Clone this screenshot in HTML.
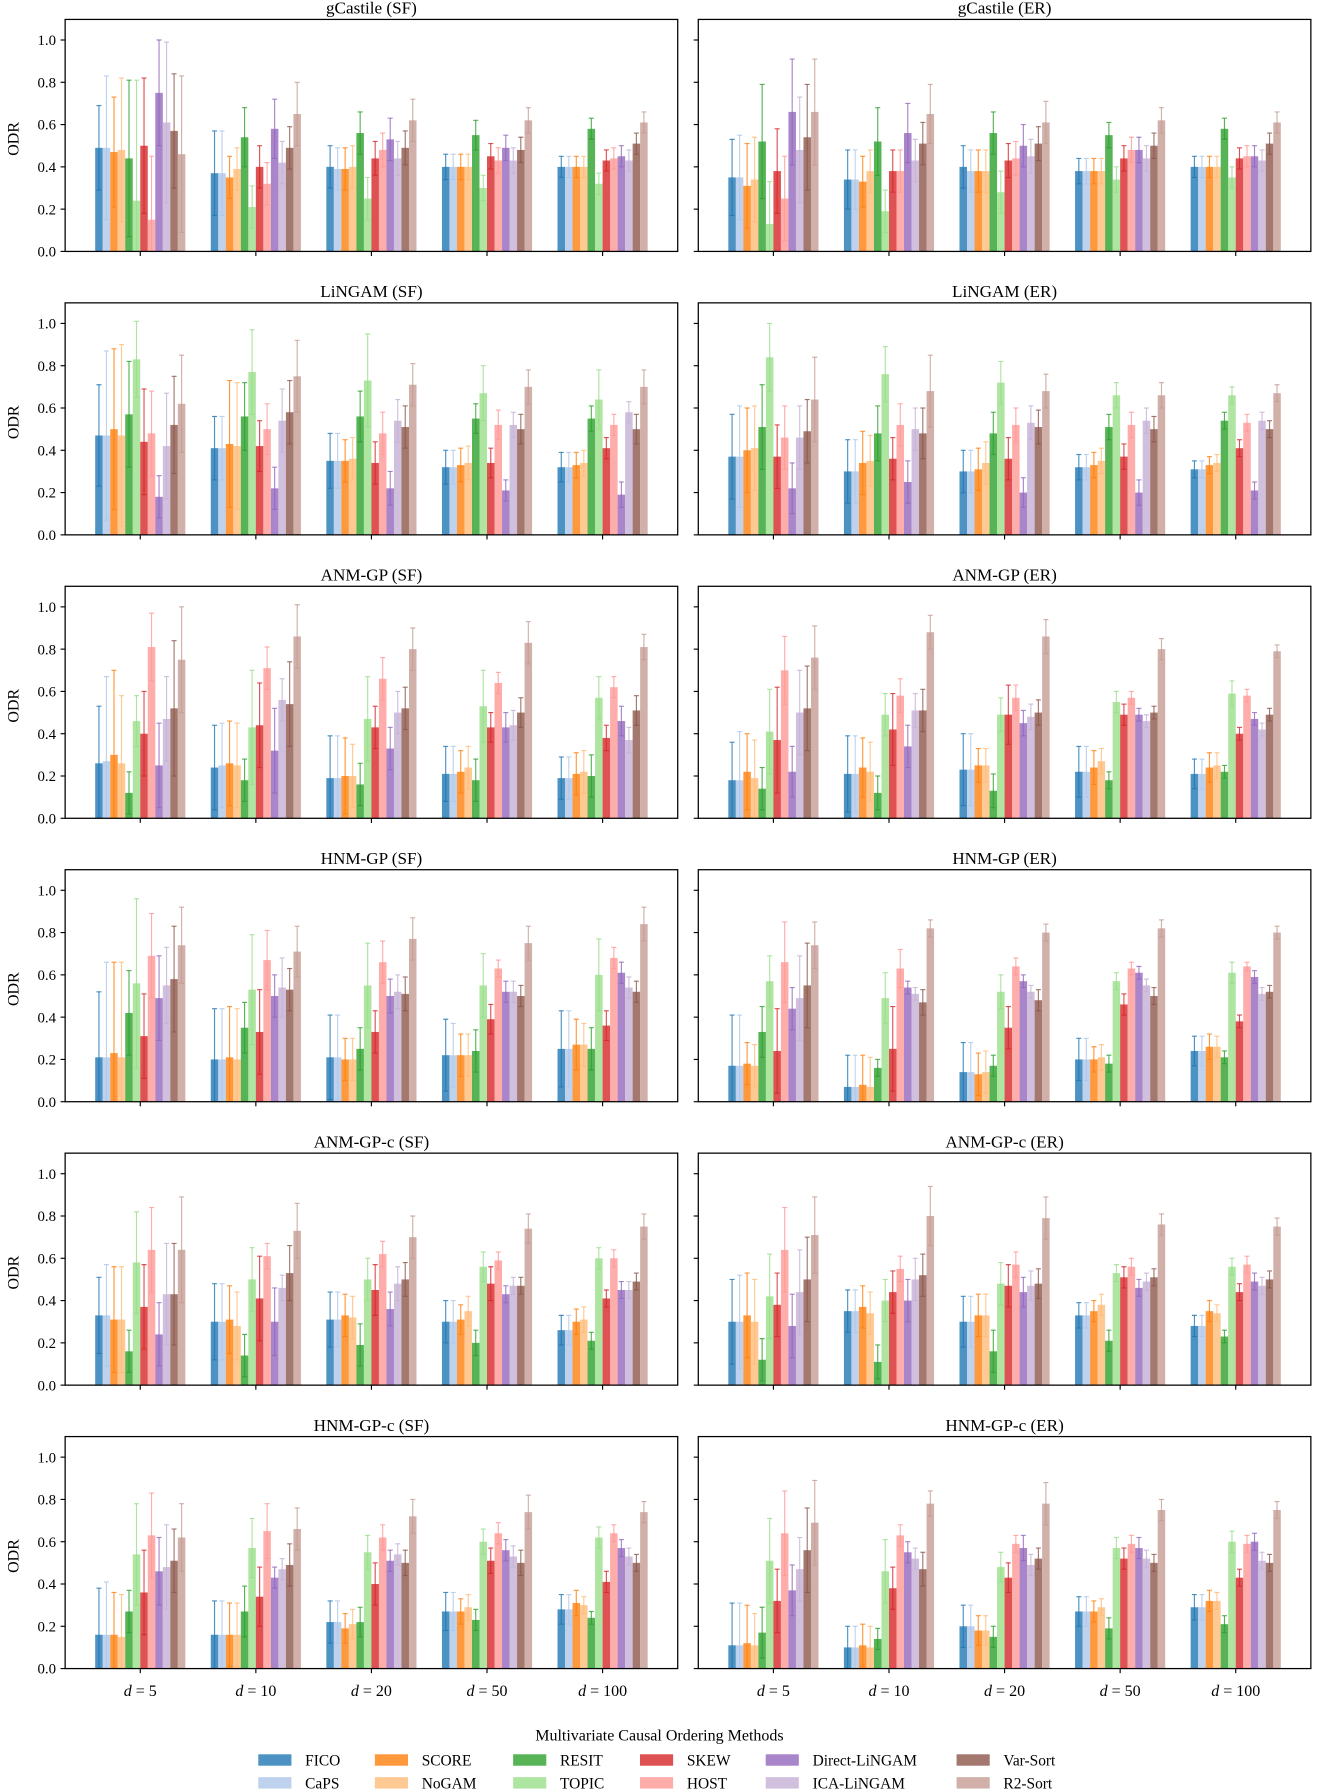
<!DOCTYPE html>
<html><head><meta charset="utf-8"><style>
html,body{margin:0;padding:0;background:#fff;}
svg{display:block;font-family:"Liberation Serif","DejaVu Serif",serif;}
</style></head><body>
<svg id="chart" width="1320" height="1792" viewBox="0 0 1155 1568" xmlns="http://www.w3.org/2000/svg"></svg>
<script>
const categories = ["5","10","20","50","100"];
const methods = ["FICO","CaPS","SCORE","NoGAM","RESIT","TOPIC","SKEW","HOST","Direct-LiNGAM","ICA-LiNGAM","Var-Sort","R2-Sort"];
const colors = ["#1f77b4","#aec7e8","#ff7f0e","#ffbb78","#2ca02c","#98df8a","#d62728","#ff9896","#9467bd","#c5b0d5","#8c564b","#c49c94"];
const panelTitles = ["gCastile (SF)","gCastile (ER)","LiNGAM (SF)","LiNGAM (ER)","ANM-GP (SF)","ANM-GP (ER)","HNM-GP (SF)","HNM-GP (ER)","ANM-GP-c (SF)","ANM-GP-c (ER)","HNM-GP-c (SF)","HNM-GP-c (ER)"];
const yTicks = [0,0.2,0.4,0.6,0.8,1.0];
const yTickLabels = ["0.0","0.2","0.4","0.6","0.8","1.0"];
const meanData = [
[[.49,.49,.47,.48,.44,.24,.50,.15,.75,.61,.57,.46],[.37,.37,.35,.39,.54,.21,.40,.32,.58,.42,.49,.65],[.40,.39,.39,.40,.56,.25,.44,.48,.53,.44,.49,.62],[.40,.40,.40,.40,.55,.30,.45,.43,.49,.43,.48,.62],[.40,.40,.40,.40,.58,.32,.43,.44,.45,.43,.51,.61]],
[[.35,.35,.31,.34,.52,.13,.38,.25,.66,.48,.54,.66],[.34,.34,.33,.38,.52,.19,.38,.38,.56,.43,.51,.65],[.40,.38,.38,.38,.56,.28,.43,.44,.50,.45,.51,.61],[.38,.38,.38,.38,.55,.34,.44,.48,.48,.44,.50,.62],[.40,.40,.40,.40,.58,.35,.44,.45,.45,.43,.51,.61]],
[[.47,.47,.50,.47,.57,.83,.44,.48,.18,.42,.52,.62],[.41,.41,.43,.42,.56,.77,.42,.50,.22,.54,.58,.75],[.35,.35,.35,.36,.56,.73,.34,.48,.22,.54,.51,.71],[.32,.32,.33,.34,.55,.67,.34,.52,.21,.52,.50,.70],[.32,.32,.33,.34,.55,.64,.41,.52,.19,.58,.50,.70]],
[[.37,.37,.40,.41,.51,.84,.37,.46,.22,.46,.49,.64],[.30,.30,.34,.35,.48,.76,.36,.52,.25,.50,.48,.68],[.30,.30,.31,.34,.48,.72,.36,.52,.20,.53,.51,.68],[.32,.32,.33,.35,.51,.66,.37,.52,.20,.54,.50,.66],[.31,.31,.33,.34,.54,.66,.41,.53,.21,.54,.50,.67]],
[[.26,.27,.30,.26,.12,.46,.40,.81,.25,.47,.52,.75],[.24,.25,.26,.25,.18,.43,.44,.71,.32,.56,.54,.86],[.19,.19,.20,.20,.16,.47,.43,.66,.33,.50,.52,.80],[.21,.21,.22,.24,.18,.53,.43,.64,.43,.44,.50,.83],[.19,.19,.21,.22,.20,.57,.38,.62,.46,.37,.51,.81]],
[[.18,.18,.22,.19,.14,.41,.37,.70,.22,.50,.52,.76],[.21,.21,.24,.22,.12,.49,.42,.58,.34,.51,.51,.88],[.23,.23,.25,.25,.13,.49,.49,.57,.45,.48,.50,.86],[.22,.22,.24,.27,.18,.55,.49,.57,.49,.46,.50,.80],[.21,.21,.24,.25,.22,.59,.40,.58,.47,.42,.49,.79]],
[[.21,.21,.23,.21,.42,.56,.31,.69,.49,.55,.58,.74],[.20,.20,.21,.20,.35,.53,.33,.67,.50,.54,.53,.71],[.21,.21,.20,.20,.25,.55,.33,.66,.50,.52,.51,.77],[.22,.22,.22,.22,.24,.55,.39,.63,.52,.52,.50,.75],[.25,.25,.27,.27,.25,.60,.36,.68,.61,.54,.52,.84]],
[[.17,.17,.18,.17,.33,.57,.24,.66,.44,.49,.55,.74],[.07,.07,.08,.07,.16,.49,.25,.63,.54,.51,.47,.82],[.14,.14,.13,.14,.17,.52,.35,.64,.57,.52,.48,.80],[.20,.20,.20,.21,.18,.57,.46,.63,.61,.55,.50,.82],[.24,.24,.26,.26,.21,.61,.38,.64,.59,.51,.52,.80]],
[[.33,.33,.31,.31,.16,.58,.37,.64,.24,.43,.43,.64],[.30,.30,.31,.28,.14,.50,.41,.61,.30,.46,.53,.73],[.31,.31,.33,.32,.19,.50,.45,.62,.36,.48,.50,.70],[.30,.30,.31,.35,.20,.56,.48,.59,.43,.47,.47,.74],[.26,.26,.30,.31,.21,.60,.41,.60,.45,.45,.49,.75]],
[[.30,.30,.33,.30,.12,.42,.38,.64,.28,.44,.50,.71],[.35,.35,.37,.34,.11,.40,.44,.55,.40,.50,.52,.80],[.30,.30,.33,.33,.16,.48,.47,.57,.44,.47,.48,.79],[.33,.33,.35,.38,.21,.53,.51,.56,.46,.49,.51,.76],[.28,.28,.35,.34,.23,.56,.44,.57,.49,.47,.50,.75]],
[[.16,.16,.16,.15,.27,.54,.36,.63,.46,.48,.51,.62],[.16,.16,.16,.16,.27,.57,.34,.65,.43,.47,.49,.66],[.22,.22,.19,.21,.22,.55,.40,.62,.51,.54,.50,.72],[.27,.27,.27,.29,.23,.60,.51,.64,.56,.53,.50,.74],[.28,.28,.31,.30,.24,.62,.41,.64,.57,.53,.50,.74]],
[[.11,.11,.12,.11,.17,.51,.32,.64,.37,.47,.56,.69],[.10,.10,.11,.10,.14,.46,.38,.63,.55,.52,.47,.78],[.20,.20,.18,.18,.15,.48,.43,.59,.57,.49,.52,.78],[.27,.27,.27,.29,.19,.57,.52,.59,.57,.52,.50,.75],[.29,.29,.32,.32,.21,.60,.43,.59,.60,.51,.50,.75]]
];
const errData = [
[[.20,.34,.26,.34,.37,.57,.32,.3,.25,.38,.27,.37],[.2,.2,.1,.1,.14,.1,.1,.1,.14,.1,.1,.15],[.1,.1,.1,.1,.1,.1,.08,.08,.1,.08,.08,.1],[.06,.06,.06,.06,.07,.06,.06,.06,.06,.06,.06,.06],[.05,.05,.05,.05,.05,.05,.05,.05,.05,.05,.05,.05]],
[[.18,.2,.2,.2,.27,.2,.2,.2,.25,.25,.25,.25],[.14,.14,.12,.1,.16,.1,.1,.1,.14,.1,.1,.14],[.1,.1,.1,.1,.1,.1,.08,.08,.1,.08,.08,.1],[.06,.06,.06,.06,.06,.06,.06,.06,.06,.06,.06,.06],[.05,.05,.05,.05,.05,.05,.05,.05,.05,.05,.05,.05]],
[[.24,.40,.38,.43,.25,.18,.25,.2,.1,.25,.23,.23],[.15,.15,.3,.3,.16,.2,.12,.12,.1,.15,.15,.17],[.13,.13,.1,.1,.12,.22,.1,.1,.08,.1,.1,.1],[.08,.08,.08,.08,.07,.13,.07,.07,.05,.06,.07,.08],[.07,.07,.06,.06,.06,.14,.05,.05,.06,.05,.07,.08]],
[[.2,.24,.2,.2,.2,.16,.15,.15,.12,.15,.15,.2],[.15,.15,.15,.12,.13,.13,.1,.1,.1,.1,.12,.17],[.1,.1,.1,.1,.1,.1,.1,.08,.07,.08,.08,.08],[.06,.06,.06,.06,.06,.06,.06,.06,.06,.06,.06,.06],[.04,.04,.04,.04,.04,.04,.04,.04,.04,.04,.04,.04]],
[[.27,.4,.4,.32,.1,.12,.2,.16,.2,.2,.32,.25],[.2,.2,.2,.2,.1,.27,.2,.1,.2,.1,.2,.15],[.2,.2,.18,.15,.1,.2,.1,.1,.1,.1,.1,.1],[.13,.13,.1,.1,.1,.17,.07,.05,.07,.07,.07,.1],[.1,.1,.1,.1,.1,.1,.06,.05,.07,.06,.07,.06]],
[[.18,.23,.18,.18,.1,.2,.25,.16,.12,.2,.2,.15],[.18,.18,.14,.14,.08,.1,.17,.08,.1,.08,.1,.08],[.17,.17,.08,.08,.08,.08,.14,.06,.06,.06,.06,.08],[.12,.12,.08,.06,.04,.05,.05,.03,.03,.03,.03,.05],[.07,.07,.07,.06,.03,.06,.03,.03,.03,.03,.03,.03]],
[[.31,.45,.43,.45,.2,.4,.2,.2,.2,.18,.25,.18],[.24,.24,.24,.24,.12,.26,.2,.14,.1,.14,.1,.12],[.2,.2,.1,.1,.1,.2,.1,.1,.08,.08,.08,.1],[.17,.15,.1,.1,.1,.15,.07,.04,.05,.05,.05,.08],[.18,.18,.12,.1,.1,.17,.07,.05,.05,.05,.05,.08]],
[[.24,.24,.1,.1,.12,.12,.2,.19,.1,.2,.2,.11],[.15,.15,.14,.14,.04,.12,.2,.09,.03,.03,.06,.04],[.14,.14,.1,.1,.05,.08,.1,.04,.03,.03,.05,.04],[.1,.1,.06,.06,.04,.04,.05,.03,.03,.03,.04,.04],[.07,.07,.06,.05,.03,.05,.03,.02,.03,.03,.03,.03]],
[[.18,.24,.25,.25,.1,.24,.2,.2,.15,.24,.24,.25],[.18,.18,.16,.16,.1,.15,.2,.06,.16,.06,.13,.13],[.13,.13,.1,.1,.1,.1,.12,.06,.08,.08,.08,.1],[.1,.1,.07,.07,.06,.07,.08,.04,.04,.04,.04,.07],[.07,.07,.06,.06,.04,.05,.04,.04,.04,.04,.04,.06]],
[[.2,.22,.2,.2,.1,.2,.15,.2,.15,.2,.2,.18],[.1,.1,.1,.1,.08,.1,.1,.06,.1,.1,.1,.14],[.12,.12,.1,.1,.1,.1,.1,.06,.07,.07,.07,.1],[.06,.06,.05,.05,.05,.04,.05,.04,.04,.04,.04,.05],[.05,.05,.05,.04,.03,.04,.04,.04,.04,.04,.04,.04]],
[[.22,.25,.2,.2,.1,.24,.2,.2,.16,.2,.15,.16],[.16,.16,.15,.15,.12,.14,.14,.13,.05,.05,.1,.1],[.1,.1,.07,.07,.07,.08,.1,.06,.05,.05,.06,.08],[.09,.09,.06,.06,.05,.06,.06,.05,.05,.05,.06,.08],[.07,.07,.06,.04,.03,.05,.05,.04,.04,.04,.04,.05]],
[[.2,.2,.18,.15,.12,.2,.15,.2,.12,.15,.2,.2],[.1,.1,.1,.1,.05,.15,.1,.05,.05,.05,.08,.06],[.1,.1,.07,.07,.05,.07,.07,.04,.06,.05,.05,.1],[.07,.07,.05,.04,.05,.05,.05,.04,.05,.04,.04,.05],[.06,.06,.05,.04,.04,.05,.04,.04,.04,.04,.04,.04]]
];

const NS = "http://www.w3.org/2000/svg";
const svg = document.getElementById("chart");
function mk(tag, attrs, parent, text){
  const e = document.createElementNS(NS, tag);
  for (const k in attrs) e.setAttribute(k, attrs[k]);
  if (text !== undefined) e.textContent = text;
  (parent || svg).appendChild(e);
  return e;
}
const PW = 536, PH = 203, XMIN = -0.65, XMAX = 4.65, YMAX = 1.0 + 18/185;
const colX = [57, 611], rowY = [17, 265, 513, 761, 1009, 1257];
const BW = 0.065;
const OP = 0.8;

panelTitles.forEach((title, p) => {
  const r = Math.floor(p/2), c = p%2;
  const x0 = colX[c], y0 = rowY[r];
  const xs = v => x0 + (v - XMIN) / (XMAX - XMIN) * PW;
  const ys = v => y0 + PH - v / YMAX * PH;
  const g = mk("g", {}, svg);
  
  
  const clipId = "clip" + p;
  const cp = mk("clipPath", {id: clipId}, g);
  mk("rect", {x: x0, y: y0, width: PW, height: PH}, cp);
  const t = mk("text", {x: x0 + PW/2, y: y0 - 5, "text-anchor": "middle", "font-size": 15}, g, title);
  
  
  const bars = mk("g", {"clip-path": "url(#" + clipId + ")"}, g);
  categories.forEach((cat, gi) => {
    meanData[p][gi].forEach((v, m) => {
      const cx = gi + (m - 5.5) * BW;
      const xl = xs(cx - BW/2), xr = xs(cx + BW/2);
      const rect = mk("rect", {x: xl, y: ys(v), width: xr - xl, height: ys(0) - ys(v), fill: colors[m], "fill-opacity": OP}, bars);
      
      
      const e = errData[p][gi][m];
      const xc = xs(cx), yt = ys(v + e), yb = ys(Math.max(v - e, -0.2));
      const eb = mk("g", {stroke: colors[m], "stroke-width": 1, "stroke-opacity": 0.8}, bars);
      
      
      mk("line", {x1: xc, x2: xc, y1: yt, y2: yb}, eb);
      mk("line", {x1: xc - 2.2, x2: xc + 2.2, y1: yt, y2: yt}, eb);
      mk("line", {x1: xc - 2.2, x2: xc + 2.2, y1: yb, y2: yb}, eb);
    });
    const tx = xs(gi);
    mk("line", {x1: tx, x2: tx, y1: y0 + PH, y2: y0 + PH + 4, stroke: "#000", "stroke-width": 1}, g);
    if (r === 5) {
      const lt = mk("text", {x: tx, y: y0 + PH + 24, "text-anchor": "middle", "font-size": 14}, g);
      
      
      mk("tspan", {"font-style": "italic"}, lt, "d");
      mk("tspan", {}, lt, " = " + cat);
    }
  });
  yTicks.forEach((v, i) => {
    const yy = ys(v);
    mk("line", {x1: x0 - 4, x2: x0, y1: yy, y2: yy, stroke: "#000", "stroke-width": 1}, g);
    if (c === 0) {
      const yl = mk("text", {x: x0 - 8, y: yy + 4.5, "text-anchor": "end", "font-size": 13}, g, yTickLabels[i]);
      
      
    }
  });
  if (c === 0) {
    const yt = mk("text", {x: 16, y: y0 + PH/2 + 3, "text-anchor": "middle", "font-size": 14, transform: "rotate(-90 16 " + (y0 + PH/2 + 3) + ")"}, g, "ODR");
    
    
  }
  mk("rect", {x: x0, y: y0, width: PW, height: PH, fill: "none", stroke: "#000", "stroke-width": 1.1}, g);
});

// legend
const lg = mk("g", {}, svg);


const ltitle = mk("text", {x: 577, y: 1523, "text-anchor": "middle", "font-size": 14}, lg, "Multivariate Causal Ordering Methods");


const legCols = [226, 328, 449, 560, 670, 837];
methods.forEach((m, i) => {
  const col = Math.floor(i/2), row = i%2;
  const lx = legCols[col], ly = 1540 + row*20;
  const ent = mk("g", {}, lg);
  
  
  mk("rect", {x: lx, y: ly - 5, width: 29, height: 10, fill: colors[i], "fill-opacity": OP}, ent);
  mk("text", {x: lx + 41, y: ly + 5, "font-size": 13.5}, ent, m);
});
</script>
</body></html>
